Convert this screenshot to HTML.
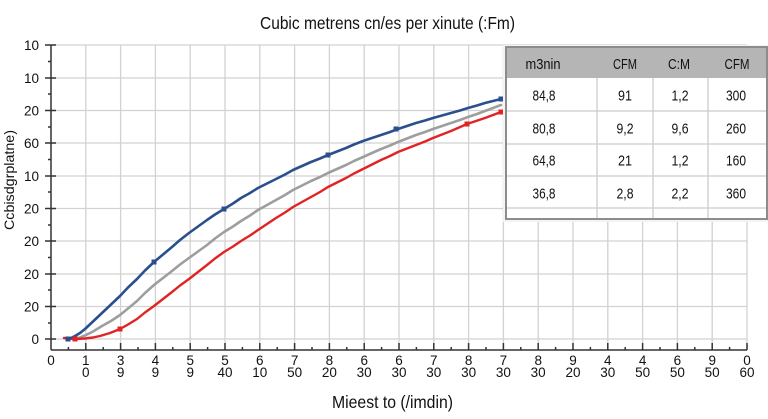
<!DOCTYPE html>
<html><head><meta charset="utf-8">
<style>
html,body{margin:0;padding:0;background:#fff;}
svg{display:block;font-family:"Liberation Sans",Arial,sans-serif;}
</style></head>
<body>
<svg width="768" height="419" viewBox="0 0 768 419" xmlns="http://www.w3.org/2000/svg">
<rect width="768" height="419" fill="#fff"/>
<!-- title -->
<text x="260" y="29" font-size="17.5" fill="#111" textLength="255" lengthAdjust="spacingAndGlyphs">Cubic metrens cn/es per xinute (:Fm)</text>
<!-- grid -->
<g stroke="#d2d2d2" stroke-width="1.3">
<line x1="51" y1="45" x2="747" y2="45"/>
<line x1="51" y1="78" x2="747" y2="78"/>
<line x1="51" y1="110.5" x2="747" y2="110.5"/>
<line x1="51" y1="143" x2="747" y2="143"/>
<line x1="51" y1="176" x2="747" y2="176"/>
<line x1="51" y1="208.5" x2="747" y2="208.5"/>
<line x1="51" y1="241" x2="747" y2="241"/>
<line x1="51" y1="274" x2="747" y2="274"/>
<line x1="51" y1="306.5" x2="747" y2="306.5"/>
<line x1="51" y1="339" x2="747" y2="339"/>
<line x1="85.8" y1="45" x2="85.8" y2="350"/>
<line x1="120.6" y1="45" x2="120.6" y2="350"/>
<line x1="155.4" y1="45" x2="155.4" y2="350"/>
<line x1="190.2" y1="45" x2="190.2" y2="350"/>
<line x1="225" y1="45" x2="225" y2="350"/>
<line x1="259.8" y1="45" x2="259.8" y2="350"/>
<line x1="294.6" y1="45" x2="294.6" y2="350"/>
<line x1="329.4" y1="45" x2="329.4" y2="350"/>
<line x1="364.2" y1="45" x2="364.2" y2="350"/>
<line x1="399" y1="45" x2="399" y2="350"/>
<line x1="433.8" y1="45" x2="433.8" y2="350"/>
<line x1="468.6" y1="45" x2="468.6" y2="350"/>
<line x1="503.4" y1="45" x2="503.4" y2="350"/>
<line x1="538.2" y1="45" x2="538.2" y2="350"/>
<line x1="573" y1="45" x2="573" y2="350"/>
<line x1="607.8" y1="45" x2="607.8" y2="350"/>
<line x1="642.6" y1="45" x2="642.6" y2="350"/>
<line x1="677.4" y1="45" x2="677.4" y2="350"/>
<line x1="712.2" y1="45" x2="712.2" y2="350"/>
<line x1="747" y1="45" x2="747" y2="350"/>
</g>
<!-- axes -->
<g stroke="#333" stroke-width="1.5">
<line x1="51" y1="45" x2="51" y2="350"/>
<line x1="51" y1="350" x2="747" y2="350"/>
<line x1="45" y1="45" x2="56" y2="45"/>
<line x1="45" y1="78" x2="56" y2="78"/>
<line x1="45" y1="110.5" x2="56" y2="110.5"/>
<line x1="45" y1="143" x2="56" y2="143"/>
<line x1="45" y1="176" x2="56" y2="176"/>
<line x1="45" y1="208.5" x2="56" y2="208.5"/>
<line x1="45" y1="241" x2="56" y2="241"/>
<line x1="45" y1="274" x2="56" y2="274"/>
<line x1="45" y1="306.5" x2="56" y2="306.5"/>
<line x1="45" y1="339" x2="56" y2="339"/>
<line x1="48" y1="61.5" x2="51" y2="61.5"/>
<line x1="48" y1="94" x2="51" y2="94"/>
<line x1="48" y1="127" x2="51" y2="127"/>
<line x1="48" y1="159.5" x2="51" y2="159.5"/>
<line x1="48" y1="192" x2="51" y2="192"/>
<line x1="48" y1="225" x2="51" y2="225"/>
<line x1="48" y1="257.5" x2="51" y2="257.5"/>
<line x1="48" y1="290" x2="51" y2="290"/>
<line x1="48" y1="323" x2="51" y2="323"/>
</g>
<g stroke="#333" stroke-width="1.5">
<path d="M85.8 343V350M120.6 343V350M155.4 343V350M190.2 343V350M225 343V350M259.8 343V350M294.6 343V350M329.4 343V350M364.2 343V350M399 343V350M433.8 343V350M468.6 343V350M503.4 343V350M538.2 343V350M573 343V350M607.8 343V350M642.6 343V350M677.4 343V350M712.2 343V350M747 343V350"/>
<path d="M68.4 347V350M103.2 347V350M138 347V350M172.8 347V350M207.6 347V350M242.4 347V350M277.2 347V350M312 347V350M346.8 347V350M381.6 347V350M416.4 347V350M451.2 347V350M486 347V350M520.8 347V350M555.6 347V350M590.4 347V350M625.2 347V350M660 347V350M694.8 347V350M729.6 347V350"/>
</g>
<!-- y labels -->
<g font-size="13.5" fill="#111" text-anchor="end">
<text x="39" y="50">10</text>
<text x="39" y="83">10</text>
<text x="39" y="115.5">20</text>
<text x="39" y="148">60</text>
<text x="39" y="181">10</text>
<text x="39" y="213.5">20</text>
<text x="39" y="246">20</text>
<text x="39" y="279">20</text>
<text x="39" y="311.5">20</text>
<text x="39" y="344">0</text>
</g>
<!-- y title -->
<text transform="translate(14,180) rotate(-90)" text-anchor="middle" font-size="14" fill="#111" textLength="100" lengthAdjust="spacingAndGlyphs">Ccbisdgrplatne)</text>
<!-- x labels -->
<g font-size="13.5" fill="#111" text-anchor="middle">
<text x="51" y="365">0</text>
<text x="85.8" y="365">1</text><text x="85.8" y="377">0</text>
<text x="120.6" y="365">3</text><text x="120.6" y="377">9</text>
<text x="155.4" y="365">4</text><text x="155.4" y="377">9</text>
<text x="190.2" y="365">5</text><text x="190.2" y="377">9</text>
<text x="225" y="365">5</text><text x="225" y="377">40</text>
<text x="259.8" y="365">6</text><text x="259.8" y="377">10</text>
<text x="294.6" y="365">7</text><text x="294.6" y="377">50</text>
<text x="329.4" y="365">8</text><text x="329.4" y="377">20</text>
<text x="364.2" y="365">6</text><text x="364.2" y="377">30</text>
<text x="399" y="365">6</text><text x="399" y="377">30</text>
<text x="433.8" y="365">7</text><text x="433.8" y="377">30</text>
<text x="468.6" y="365">8</text><text x="468.6" y="377">30</text>
<text x="503.4" y="365">7</text><text x="503.4" y="377">30</text>
<text x="538.2" y="365">8</text><text x="538.2" y="377">30</text>
<text x="573" y="365">9</text><text x="573" y="377">20</text>
<text x="607.8" y="365">4</text><text x="607.8" y="377">30</text>
<text x="642.6" y="365">4</text><text x="642.6" y="377">50</text>
<text x="677.4" y="365">6</text><text x="677.4" y="377">50</text>
<text x="712.2" y="365">9</text><text x="712.2" y="377">50</text>
<text x="747" y="365">0</text><text x="747" y="377">60</text>
</g>
<!-- x title -->
<text x="332" y="408" font-size="17.5" fill="#111" textLength="121" lengthAdjust="spacingAndGlyphs">Mieest to (/imdin)</text>
<!-- series -->
<g fill="none" stroke-linejoin="round" stroke-linecap="round">
<polyline stroke="#9e9e9e" stroke-width="2.6" points="73,339 80,337.5 85,335.5 93,331.5 102,326 111,321 120,315 128,308.5 137,301 145,293 154,285 163,278 172,271 180,264.5 189,258 198,251.5 207,245 215,238.5 224,232 233,226.5 241,221 250,215.5 258,210 267,205 276,200 285,195 293,190 302,185.5 311,181 320,177 328,173 337,169 346,165 354,161 363,157 372,153 381,149 390,145.5 398,142 407,138.5 416,135 425,132 433,129 442,126 451,123 460,120 468,117 477,114 485,111 493,108 501,105"/>
<polyline stroke="#e02424" stroke-width="2.4" points="64,338 75,339 85,338.5 93,337.5 100,336 110,333 120,329 128,324.5 137,319 145,312.5 154,306 163,299 172,292 180,285.5 189,279 198,272 207,265 215,258.5 224,252 233,246.5 241,241 250,235.5 258,230 267,224 276,218 285,212.5 293,207 302,202 311,197 320,192 328,187 337,182.5 346,178 354,173.5 363,169 372,164.5 381,160 390,156 398,152 407,148.5 416,145 425,141.5 433,138 442,134.5 451,131 459,127.5 467,124 476,121 485,118 493,115 501,112"/>
<polyline stroke="#2b4f8e" stroke-width="2.6" points="67,339 71,338 75,336 80,333 85,329 93,321.5 102,313 111,304.5 120,296 128,287.5 137,279 145,270.5 154,262 163,254.5 172,247 180,240 189,233 198,226.5 207,220 215,214.5 224,209 233,203.5 241,198 250,193 258,188 267,183.5 276,179 285,174.5 293,170 302,166 311,162 320,158.5 328,155 337,151.5 346,148 354,144.5 363,141 372,138 381,135 390,132 398,129 407,126 416,123 425,120.5 433,118 442,115.5 451,113 460,110.5 468,108 477,105.5 485,103 493,101 501,99"/>
</g>
<g fill="#2b4f8e">
<rect x="65.5" y="336.5" width="5" height="5"/>
<rect x="151.5" y="259.5" width="5" height="5"/>
<rect x="221.5" y="206.5" width="5" height="5"/>
<rect x="325.5" y="152.5" width="5" height="5"/>
<rect x="393.5" y="126.5" width="5" height="5"/>
<rect x="498.5" y="96.5" width="5" height="5"/>
</g>
<g fill="#e02424">
<rect x="72.5" y="336.5" width="5" height="5"/>
<rect x="117.5" y="326.5" width="5" height="5"/>
<rect x="464.5" y="121.5" width="5" height="5"/>
<rect x="498.5" y="109.5" width="5" height="5"/>
</g>
<!-- table -->
<rect x="503" y="45" width="265" height="177" fill="#f4f4f4"/>
<rect x="506" y="47" width="261" height="172" fill="#fff" stroke="#8c8c8c" stroke-width="2"/>
<rect x="507" y="48" width="259" height="30" fill="#b5b5b5"/>
<g stroke="#cbcbcb" stroke-width="1.3">
<line x1="507" y1="111" x2="766" y2="111"/>
<line x1="507" y1="144" x2="766" y2="144"/>
<line x1="507" y1="176" x2="766" y2="176"/>
<line x1="507" y1="208" x2="766" y2="208"/>
<line x1="597" y1="78" x2="597" y2="218"/>
<line x1="653" y1="78" x2="653" y2="218"/>
<line x1="708" y1="78" x2="708" y2="218"/>
</g>
<g font-size="15" fill="#111" text-anchor="middle" lengthAdjust="spacingAndGlyphs">
<text x="543" y="69" textLength="35" lengthAdjust="spacingAndGlyphs">m3nin</text>
<text x="625" y="69" textLength="24" lengthAdjust="spacingAndGlyphs">CFM</text>
<text x="679" y="69" textLength="22" lengthAdjust="spacingAndGlyphs">C:M</text>
<text x="737" y="69" textLength="25" lengthAdjust="spacingAndGlyphs">CFM</text>
<text x="544" y="100.5" textLength="23" lengthAdjust="spacingAndGlyphs">84,8</text><text x="625" y="100.5" textLength="14" lengthAdjust="spacingAndGlyphs">91</text><text x="680" y="100.5" textLength="17" lengthAdjust="spacingAndGlyphs">1,2</text><text x="736" y="100.5" textLength="20" lengthAdjust="spacingAndGlyphs">300</text>
<text x="544" y="133.5" textLength="23" lengthAdjust="spacingAndGlyphs">80,8</text><text x="625" y="133.5" textLength="17" lengthAdjust="spacingAndGlyphs">9,2</text><text x="680" y="133.5" textLength="17" lengthAdjust="spacingAndGlyphs">9,6</text><text x="736" y="133.5" textLength="20" lengthAdjust="spacingAndGlyphs">260</text>
<text x="544" y="165.5" textLength="23" lengthAdjust="spacingAndGlyphs">64,8</text><text x="625" y="165.5" textLength="14" lengthAdjust="spacingAndGlyphs">21</text><text x="680" y="165.5" textLength="17" lengthAdjust="spacingAndGlyphs">1,2</text><text x="736" y="165.5" textLength="20" lengthAdjust="spacingAndGlyphs">160</text>
<text x="544" y="198.5" textLength="23" lengthAdjust="spacingAndGlyphs">36,8</text><text x="625" y="198.5" textLength="17" lengthAdjust="spacingAndGlyphs">2,8</text><text x="680" y="198.5" textLength="17" lengthAdjust="spacingAndGlyphs">2,2</text><text x="736" y="198.5" textLength="20" lengthAdjust="spacingAndGlyphs">360</text>
</g>
</svg>
</body></html>
